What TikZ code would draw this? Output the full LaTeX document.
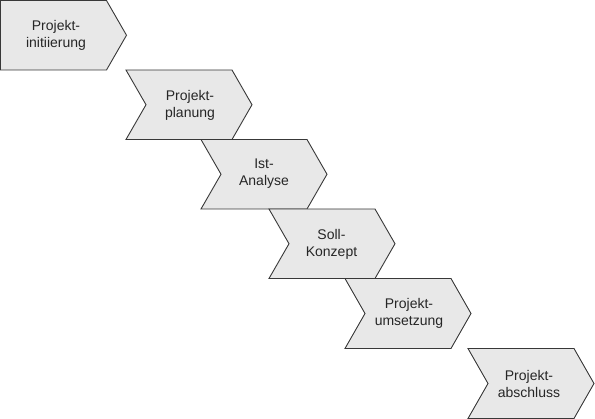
\documentclass[tikz,border=0pt]{standalone}
\usepackage{fontspec}
\setmainfont{Liberation Sans}
\tikzset{
  chevshape/.style={draw=black!78, fill=black!9, line width=0.9pt, line join=miter},
  chevtext/.style={align=center, font=\fontsize{14}{17}\selectfont, text=black!85, inner sep=0pt}
}
% #1 name, #2 left x, #3 top y, #4 bottom y, #5 notch (0/1), #6 text
\newcommand{\chevron}[6]{%
  \pgfmathsetmacro{\mid}{(#3+#4)/2}%
  \pgfmathsetmacro{\rx}{#2+106}%
  \pgfmathsetmacro{\tx}{#2+126}%
  \pgfmathsetmacro{\nx}{#2+20*#5}%
  \draw[chevshape] (#2,#3) -- (\rx,#3) -- (\tx,\mid) -- (\rx,#4) -- (#2,#4) -- (\nx,\mid) -- cycle;
}
\begin{document}
\begin{tikzpicture}[x=1pt,y=-1pt]
\useasboundingbox (0,0) rectangle (595,419);
\chevron{c1}{0.5}{0.5}{70}{0}{}
\node[chevtext] (t1) at (56,35) {Projekt-\\initiierung};
\chevron{c2}{126}{70}{139.5}{1}{}
\node[chevtext] (t2) at (190,105) {Projekt-\\planung};
\chevron{c3}{201}{139.5}{209}{1}{}
\node[chevtext] (t3) at (264,174) {Ist-\\Analyse};
\chevron{c4}{269}{209}{278.5}{1}{}
\node[chevtext] (t4) at (331.5,244) {Soll-\\Konzept};
\chevron{c5}{345}{278.5}{348.5}{1}{}
\node[chevtext] (t5) at (409,313.5) {Projekt-\\umsetzung};
\chevron{c6}{468}{348.5}{418.5}{1}{}
\node[chevtext] (t6) at (529,383.5) {Projekt-\\abschluss};
\end{tikzpicture}
\end{document}
